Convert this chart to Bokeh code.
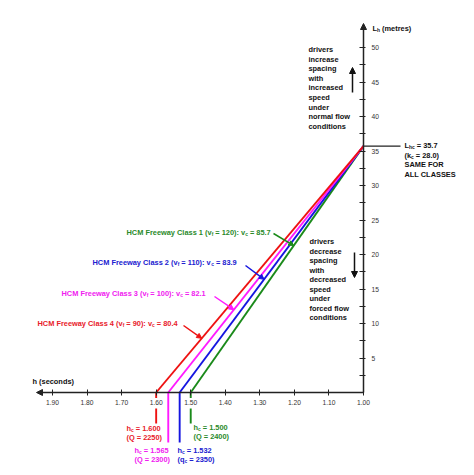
from bokeh.plotting import figure
from bokeh.models import Range1d, LinearAxis, FixedTicker, NumeralTickFormatter, Arrow, NormalHead
from bokeh.core.properties import value
from bokeh.embed import file_html
from bokeh.resources import INLINE

# ---------------- data ----------------
class_no = [1, 2, 3, 4]
v_free = [120, 110, 100, 90]
v_crit = ["85.7", "83.9", "82.1", "80.4"]
h_crit = [1.500, 1.532, 1.565, 1.600]
h_crit_lbl = ["1.500", "1.532", "1.565", "1.600"]
q_sym = ["Q", "q", "Q", "Q"]
q_cap = [2400, 2350, 2300, 2250]
L_crit = 35.7
L_crit_lbl = "35.7"
k_crit_lbl = "28.0"
x_ticks = [1.90, 1.80, 1.70, 1.60, 1.50, 1.40, 1.30, 1.20, 1.10, 1.00]
y_ticks = [5, 10, 15, 20, 25, 30, 35, 40, 45, 50]
y_minor = [2.5, 7.5, 12.5, 17.5, 22.5, 27.5, 32.5, 37.5, 42.5, 47.5]
note_up = ["drivers", "increase", "spacing", "with", "increased", "speed", "under",
           "normal flow", "conditions"]
note_down = ["drivers", "decrease", "spacing", "with", "decreased", "speed", "under",
             "forced flow", "conditions"]

line_cols = ["#1a8a1a", "#1515e0", "#ff1aff", "#ee1111"]
text_cols = ["#2a8a2a", "#2020d0", "#f020f0", "#e8202a"]

# ---------------- frame geometry ----------------
W, H = 468, 468
SX = 311 / 0.9          # px per second
SY = 345 / 50.0         # px per metre
X0 = 1.9 + 52 / SX
X1 = X0 - W / SX
Y1 = 50 + 47 / SY
Y0 = Y1 - H / SY


def X(px):
    return X0 - px / SX


def Y(py):
    return Y1 - py / SY


p = figure(width=W, height=H, x_range=Range1d(X0, X1), y_range=Range1d(Y0, Y1),
           output_backend="svg", toolbar_location=None, min_border=0,
           x_axis_location=None, y_axis_location=None)
p.grid.visible = False
p.outline_line_color = None
p.background_fill_color = "white"
p.border_fill_color = "white"

FONT = "Liberation Sans"
FS = 7.4
TFS = "6.7px"

xa = LinearAxis(fixed_location=0, ticker=FixedTicker(ticks=x_ticks, minor_ticks=[]),
                formatter=NumeralTickFormatter(format="0.00"), bounds=(1.0, 1.95))
xa.axis_line_color = None
xa.major_tick_in = 3
xa.major_tick_out = 3
xa.major_tick_line_color = "#222222"
xa.major_label_text_font = FONT
xa.major_label_text_font_size = TFS
xa.major_label_text_color = "#333333"
xa.major_label_standoff = 4
p.add_layout(xa, "below")

ya = LinearAxis(fixed_location=1.0, ticker=FixedTicker(ticks=y_ticks, minor_ticks=y_minor),
                bounds=(0, 53))
ya.axis_line_color = None
ya.major_tick_in = 4
ya.major_tick_out = 2
ya.minor_tick_in = 4
ya.minor_tick_out = 2
ya.major_tick_line_color = "#222222"
ya.minor_tick_line_color = "#222222"
ya.major_label_text_font = FONT
ya.major_label_text_font_size = TFS
ya.major_label_text_color = "#333333"
ya.major_label_standoff = 6
p.add_layout(ya, "right")

# axis lines with arrow heads
p.add_layout(Arrow(x_start=1.0, y_start=0, x_end=X(36), y_end=0, line_width=1.5, line_color="#222222",
                   end=NormalHead(size=6, fill_color="#222222", line_color="#222222")))
p.add_layout(Arrow(x_start=1.0, y_start=0, x_end=1.0, y_end=Y(23), line_width=1.5, line_color="#222222",
                   end=NormalHead(size=6, fill_color="#222222", line_color="#222222")))

# horizontal line at critical spacing
p.line(x=[1.0, X(400)], y=[L_crit, L_crit], line_color="#222222", line_width=1.3)

# ---------------- text helpers ----------------
AW = {" ": 278, "(": 333, ")": 333, ":": 333, ".": 278, ",": 278, "=": 584,
      "A": 722, "C": 722, "E": 667, "F": 611, "H": 722, "L": 611, "M": 833, "O": 778,
      "R": 722, "S": 667, "Q": 778, "a": 556, "c": 556, "d": 611, "e": 556, "f": 333,
      "h": 611, "k": 556, "l": 278, "m": 889, "n": 611, "o": 611, "q": 611, "r": 389,
      "s": 556, "t": 333, "v": 556, "w": 778, "y": 556, "i": 278, "u": 611}


def tw(s, fs):
    return sum(AW.get(ch, 556) for ch in s) * fs / 1000.0


def rich(x, y, parts, color, fs=FS):
    off = 0.0
    for t, sub in parts:
        f = fs * 0.66 if sub else fs
        lead = len(t) - len(t.lstrip(" "))
        off += tw(" " * lead, f)
        core = t.strip(" ")
        if core:
            p.text(x=[x], y=[y], text=[core], x_offset=off, y_offset=2.2 if sub else 0,
                   text_font=value(FONT), text_font_style="bold", text_font_size=f"{f}px",
                   text_color=color, text_baseline="middle", text_align="left")
        off += tw(t.lstrip(" "), f)


# ---------------- class lines ----------------
lbl_x = [126, 92, 61, 37]
lbl_y = [232, 262, 293, 323]
arr_start = [(273, 233), (245, 265), (214, 296), (183, 325)]
arr_L = [21.3, 16.4, 12.0, 7.85]
hl_x = [193, 177, 134, 126]
hl_y = [426.5, 450, 450, 428]
drop_gap = [True, False, False, True]

for i in range(4):
    hc = h_crit[i]
    col = line_cols[i]
    p.line(x=[hc, 1.0], y=[0, L_crit], line_color=col, line_width=1.9)
    if drop_gap[i]:
        p.segment(x0=[hc, hc], y0=[0, Y(408)], x1=[hc, hc], y1=[Y(397.5), Y(423)],
                  line_color=col, line_width=1.9)
    else:
        p.segment(x0=[hc], y0=[0], x1=[hc], y1=[Y(442)], line_color=col, line_width=1.9)
    # class label
    rich(X(lbl_x[i]), Y(lbl_y[i]),
         [(f"HCM Freeway Class {class_no[i]} (v", False), ("f", True),
          (f" = {v_free[i]}): v", False), ("c", True), (f" = {v_crit[i]}", False)],
         text_cols[i])
    Le = arr_L[i]
    he = hc - (hc - 1.0) * Le / L_crit
    sx, sy = arr_start[i]
    p.add_layout(Arrow(x_start=X(sx), y_start=Y(sy), x_end=he, y_end=Le, line_color=col,
                       line_width=1.5, end=NormalHead(size=5, fill_color=col, line_color=col)))
    # critical headway label
    rich(X(hl_x[i]), Y(hl_y[i]), [("h", False), ("c", True), (f" = {h_crit_lbl[i]}", False)],
         text_cols[i])
    if q_sym[i] == "q":
        rich(X(hl_x[i]), Y(hl_y[i] + 9), [("(q", False), ("c", True), (f" = {q_cap[i]})", False)],
             text_cols[i])
    else:
        rich(X(hl_x[i]), Y(hl_y[i] + 9), [(f"(Q = {q_cap[i]})", False)], text_cols[i])

# ---------------- axis titles & notes ----------------
rich(X(32), Y(381), [("h (seconds)", False)], "#111111")
rich(X(372), Y(28), [("L", False), ("h", True), (" (metres)", False)], "#111111")

rich(X(404), Y(145), [("L", False), ("hc", True), (f" = {L_crit_lbl}", False)], "#111111")
rich(X(404), Y(154.5), [("(k", False), ("c", True), (f" = {k_crit_lbl})", False)], "#111111")
rich(X(404), Y(164), [("SAME FOR", False)], "#111111")
rich(X(404), Y(173.5), [("ALL CLASSES", False)], "#111111")

p.text(x=[X(308)] * len(note_up), y=[Y(49 + 9.6 * k) for k in range(len(note_up))], text=note_up,
       text_font=value(FONT), text_font_style="bold", text_font_size=f"{FS}px",
       text_color="#111111", text_baseline="middle", text_align="left")
p.text(x=[X(309)] * len(note_down), y=[Y(241 + 9.5 * k) for k in range(len(note_down))], text=note_down,
       text_font=value(FONT), text_font_style="bold", text_font_size=f"{FS}px",
       text_color="#111111", text_baseline="middle", text_align="left")

p.add_layout(Arrow(x_start=X(352), y_start=Y(92), x_end=X(352), y_end=Y(67), line_width=1.5,
                   line_color="#111111", end=NormalHead(size=6, fill_color="#111111", line_color="#111111")))
p.add_layout(Arrow(x_start=X(354), y_start=Y(252), x_end=X(354), y_end=Y(277), line_width=1.5,
                   line_color="#111111", end=NormalHead(size=6, fill_color="#111111", line_color="#111111")))

open("out.html", "w").write(file_html(p, INLINE))
